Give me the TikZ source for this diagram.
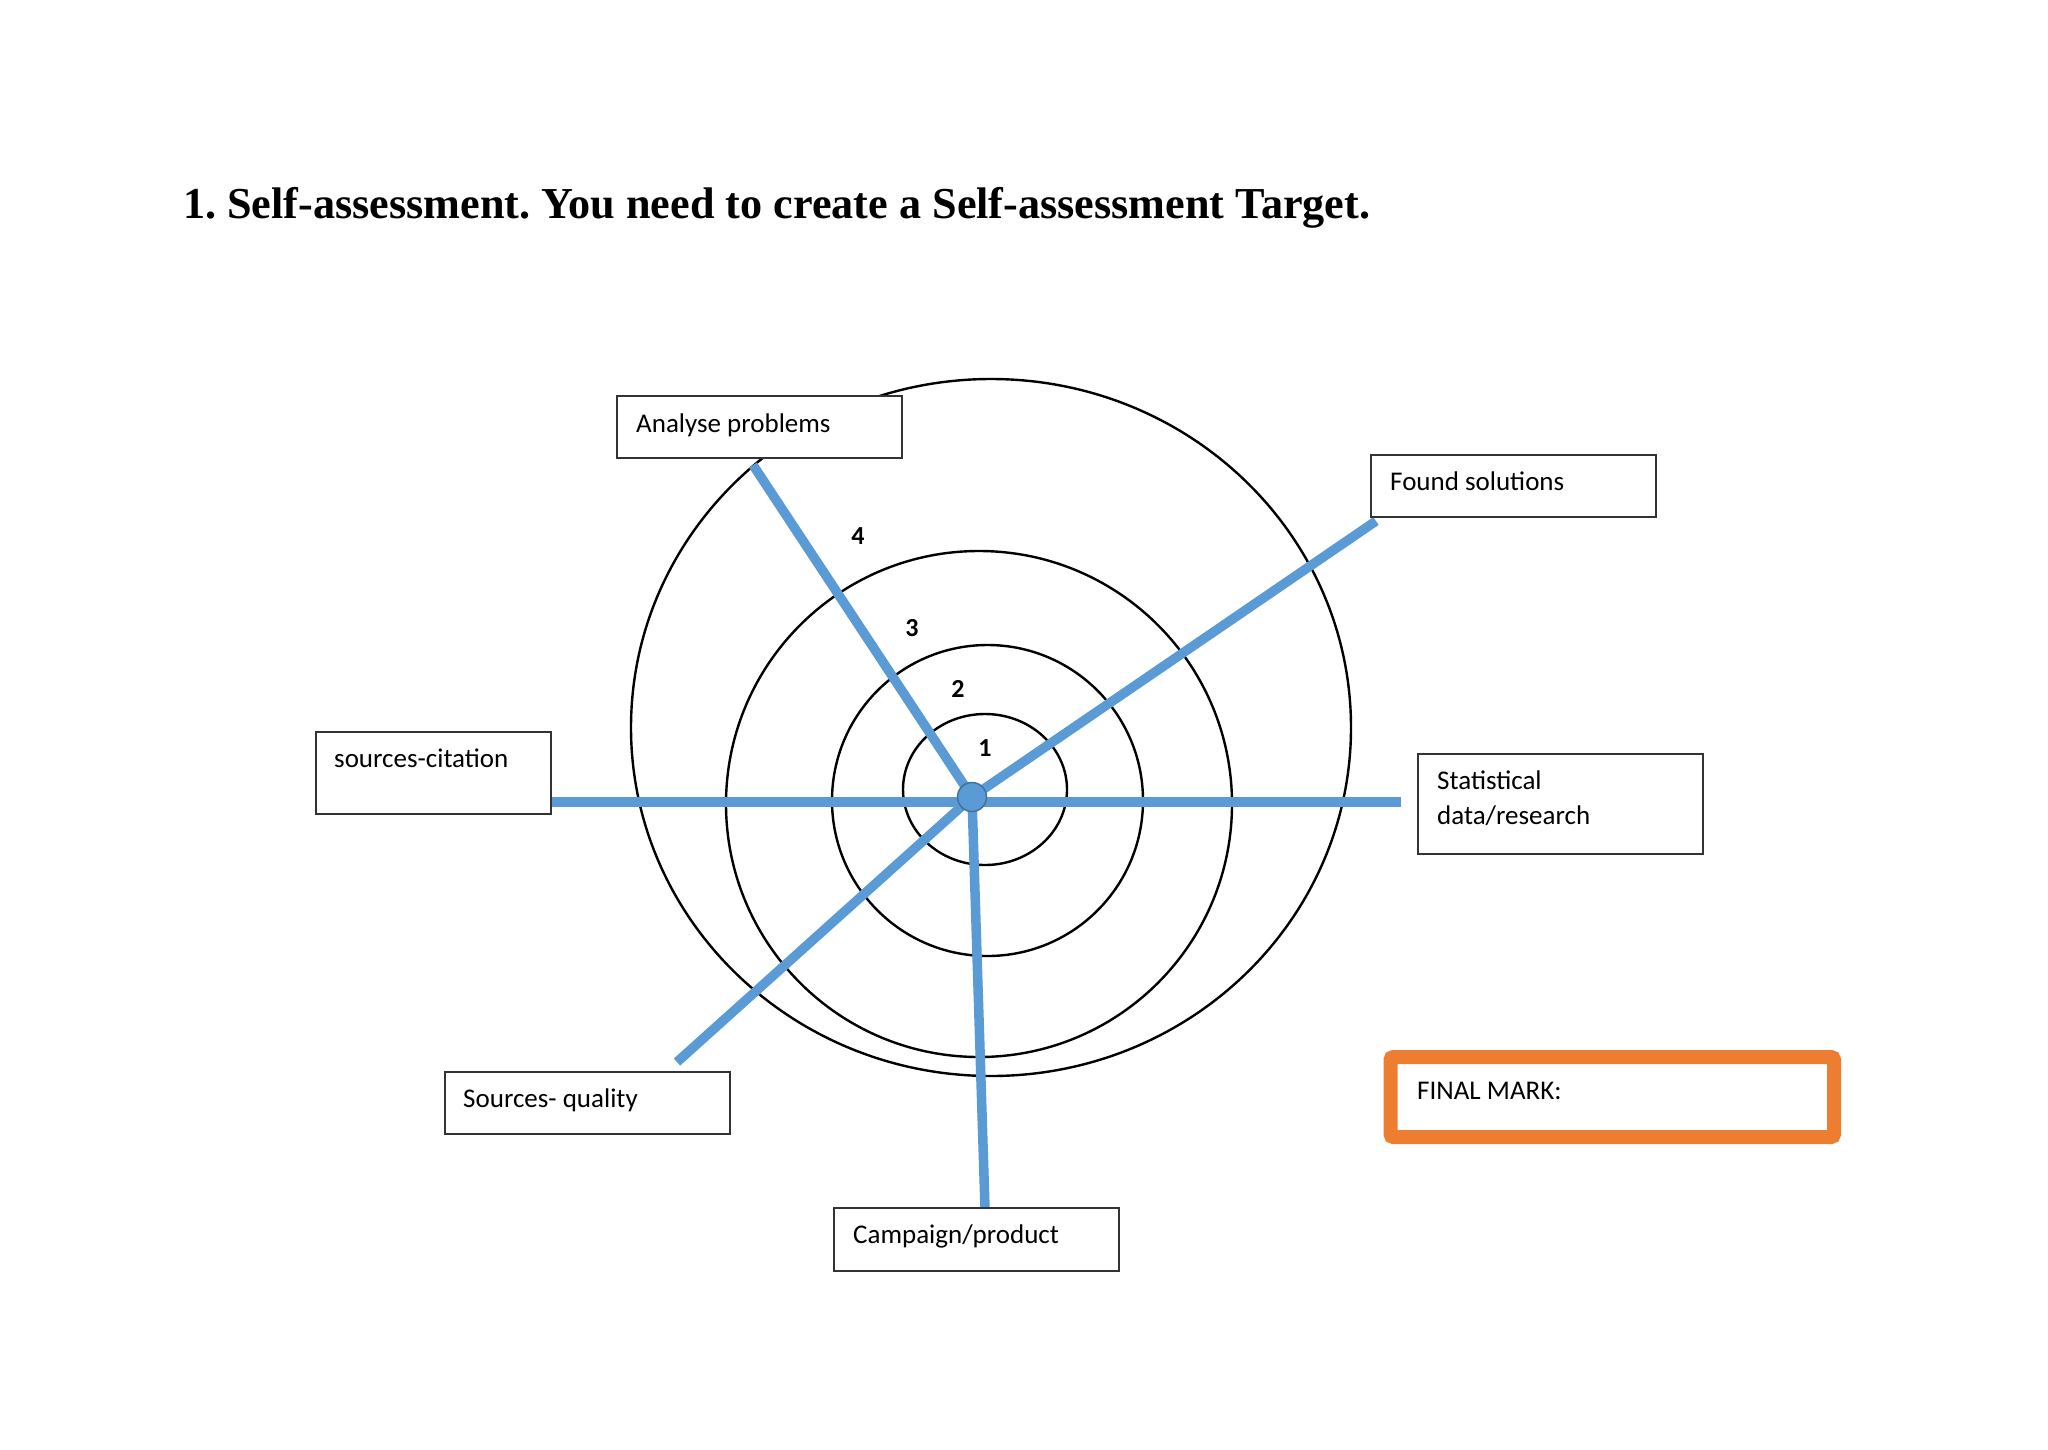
\documentclass[tikz,border=0pt]{standalone}
\usepackage{fontspec}
\setmainfont{Carlito}
\newfontfamily\titlefont{Liberation Serif}
\usetikzlibrary{calc}
\definecolor{oblue}{HTML}{5B9BD5}
\definecolor{odark}{HTML}{41719C}
\definecolor{oorange}{HTML}{ED7D31}
\frenchspacing
\begin{document}
\begin{tikzpicture}[x=1pt,y=-1pt,
  ring/.style={draw=black, line width=2.4pt},
  spoke/.style={draw=oblue, line width=9.5pt},
  labelbox/.style={draw=black!80, line width=1.6pt, fill=white, rectangle, inner sep=0pt, outer sep=0pt, anchor=north west, minimum width=285pt, minimum height=62pt},
  boxtext/.style={anchor=base west, inner sep=0pt, font=\fontsize{27}{33}\selectfont},
  num/.style={inner sep=0pt, font=\fontsize{26}{30}\selectfont\bfseries}]
\useasboundingbox[fill=white] (0,0) rectangle (2048,1449);

% title
\node[anchor=base west, inner sep=0pt, font=\titlefont\fontsize{44.2}{50}\selectfont\bfseries] (title) at (183,218) {1. Self-assessment. You need to create a Self-assessment Target.};

% rings
\draw[ring] (991,727.5) ellipse [x radius=360pt, y radius=348.5pt];
\draw[ring] (979,804) ellipse [x radius=253pt, y radius=253pt];
\draw[ring] (987.5,800.5) ellipse [x radius=155.5pt, y radius=155.5pt];
\draw[ring] (985,789.5) ellipse [x radius=82pt, y radius=75.5pt];

% hub and spoke end points
\coordinate (hubc) at (972,797);
\coordinate (eA) at (753,465);
\coordinate (eF) at (1376,521);
\coordinate (eQ) at (677,1062);
\coordinate (eC) at (985,1208);
\coordinate (hL) at (551,802);
\coordinate (hR) at (1401,802);

\draw[spoke] (hL) -- (hR);
\draw[spoke] (hubc) -- (eA);
\draw[spoke] (hubc) -- (eF);
\draw[spoke] (hubc) -- (eQ);
\draw[spoke] (hubc) -- (eC);
\node[circle, fill=oblue, draw=odark, line width=1.5pt, minimum size=29pt, inner sep=0pt] (hub) at (hubc) {};

% boxes
\node[labelbox] (ap) at (617,396) {};
\node[boxtext] (apt) at (636,432) {Analyse problems};

\node[labelbox] (fs) at (1371,455) {};
\node[boxtext] (fst) at (1390,490) {Found solutions};

\node[labelbox, minimum width=235pt, minimum height=82pt] (sc) at (316,732) {};
\node[boxtext] (sct) at (334,767) {sources-citation};

\node[labelbox, minimum height=100pt] (sd) at (1418,754) {};
\node[boxtext] (sdt1) at (1437,789) {Statistical};
\node[boxtext] (sdt2) at (1437,824) {data/research};

\node[labelbox] (sq) at (445,1072) {};
\node[boxtext] (sqt) at (463,1107) {Sources- quality};

\node[labelbox, minimum height=63pt] (cp) at (834,1208) {};
\node[boxtext] (cpt) at (853,1243) {Campaign/product};

% final mark
\node[draw=oorange, line width=14pt, rounded corners=3pt, rectangle, inner sep=0pt, outer sep=0pt, anchor=north west, minimum width=443.5pt, minimum height=80pt] (fm) at (1390.5,1057) {};
\node[boxtext] (fmt) at (1417,1099) {FINAL MARK:};

% ring numbers
\node[num] (n4) at (858,536) {4};
\node[num] (n3) at (912,628) {3};
\node[num] (n2) at (958,689) {2};
\node[num] (n1) at (985,748) {1};
\end{tikzpicture}
\end{document}
